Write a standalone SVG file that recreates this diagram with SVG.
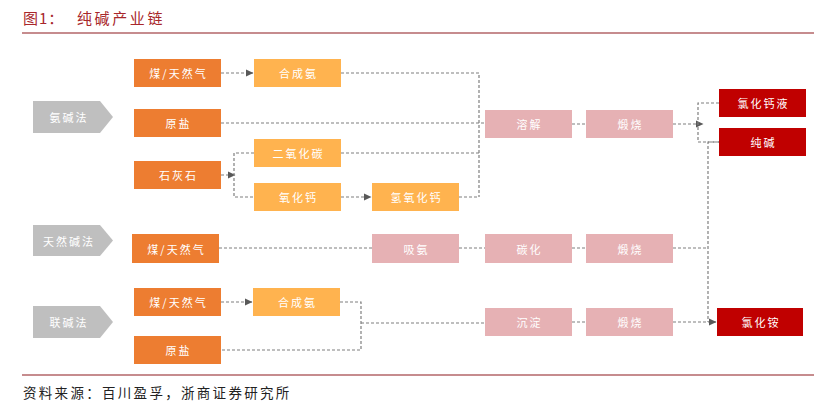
<svg xmlns="http://www.w3.org/2000/svg" width="829" height="412" viewBox="0 0 829 412">
<style>
  .t{font-family:"Noto Sans CJK SC","Noto Sans",sans-serif;font-size:11px;letter-spacing:2px;fill:#ffffff;text-anchor:middle;dominant-baseline:central}
  .dk{fill:#ED7D31}
  .lt{fill:#FFB34F}
  .pk{fill:#E6B1B4}
  .rd{fill:#C00000}
  .gy{fill:#BFBFBF}
  .c{fill:none;stroke:#7F7F7F;stroke-width:1.2;stroke-dasharray:3 2}
  .ca{fill:none;stroke:#7F7F7F;stroke-width:1.2;stroke-dasharray:3 2;marker-end:url(#ah)}
</style>
<defs>
  <marker id="ah" markerWidth="8" markerHeight="8" refX="7" refY="4" orient="auto" markerUnits="userSpaceOnUse">
    <path d="M0,0.5 L7.5,4 L0,7.5 Z" fill="#595959"/>
  </marker>
</defs>
<rect width="829" height="412" fill="#ffffff"/>
<text x="23" y="17" font-family="Noto Sans CJK SC,sans-serif" font-size="15" fill="#A8272B" dominant-baseline="central" letter-spacing="1">图1：</text>
<text x="77" y="17" font-family="Noto Sans CJK SC,sans-serif" font-size="15" fill="#A8272B" dominant-baseline="central" letter-spacing="2.6">纯碱产业链</text>
<line x1="22" y1="33" x2="814" y2="33" stroke="#8E1B1E" stroke-width="1.2"/>
<line x1="22" y1="375" x2="814" y2="375" stroke="#8E1B1E" stroke-width="1.2"/>
<text x="23" y="392" font-family="Noto Sans CJK SC,sans-serif" font-size="13.5" fill="#222222" dominant-baseline="central" letter-spacing="2.3">资料来源：百川盈孚，浙商证券研究所</text>

<g id="connectors">
  <path class="ca" d="M221,73 H253"/>
  <path class="c" d="M341,73 H479 V197"/>
  <path class="c" d="M221,123 H485"/>
  <path class="c" d="M341,153 H479"/>
  <path class="c" d="M459,197 H479"/>
  <path class="ca" d="M341,197 H371"/>
  <path class="ca" d="M221,175 H235"/>
  <path class="c" d="M254,153 H234 V197 H254"/>
  <path class="c" d="M572,124 H586"/>
  <path class="ca" d="M673,124 H703"/>
  <path class="c" d="M719,103 H698 V142 H719"/>
  <path class="c" d="M719,142 H708 V322"/>
  <path class="c" d="M219,248 H372"/>
  <path class="c" d="M459,248 H485"/>
  <path class="c" d="M572,248 H586"/>
  <path class="c" d="M673,248 H708"/>
  <path class="ca" d="M221,302 H252"/>
  <path class="c" d="M340,302 H361 V350 H221"/>
  <path class="c" d="M361,323 H485"/>
  <path class="c" d="M572,322 H586"/>
  <path class="ca" d="M673,322 H716"/>
</g>

<g id="m1"><path class="gy" d="M33,101 H100 L113,117 L100,133 H33 Z"/><text class="t" x="69" y="117">氨碱法</text></g>
<g id="m2"><path class="gy" d="M33,225 H100 L113,240.5 L100,256 H33 Z"/><text class="t" x="69" y="240.5">天然碱法</text></g>
<g id="m3"><path class="gy" d="M33,306 H100 L113,322 L100,338 H33 Z"/><text class="t" x="69" y="322">联碱法</text></g>

<g id="a_coal"><rect class="dk" x="134" y="59" width="87" height="28"/><text class="t" x="178.5" y="73">煤/天然气</text></g>
<g id="a_salt"><rect class="dk" x="134" y="109" width="87" height="28"/><text class="t" x="178.5" y="123">原盐</text></g>
<g id="a_lime"><rect class="dk" x="134" y="161" width="87" height="28"/><text class="t" x="178.5" y="175">石灰石</text></g>
<g id="a_nh3"><rect class="lt" x="254" y="59" width="87" height="28"/><text class="t" x="298.5" y="73">合成氨</text></g>
<g id="a_co2"><rect class="lt" x="254" y="139" width="87" height="28"/><text class="t" x="298.5" y="153">二氧化碳</text></g>
<g id="a_cao"><rect class="lt" x="254" y="183" width="87" height="28"/><text class="t" x="298.5" y="197">氧化钙</text></g>
<g id="a_caoh"><rect class="lt" x="372" y="183" width="87" height="28"/><text class="t" x="416.5" y="197">氢氧化钙</text></g>
<g id="a_dis"><rect class="pk" x="485" y="110" width="87" height="28"/><text class="t" x="529.5" y="124">溶解</text></g>
<g id="a_cal"><rect class="pk" x="586" y="110" width="87" height="28"/><text class="t" x="630.5" y="124">煅烧</text></g>
<g id="o_cacl"><rect class="rd" x="719" y="89" width="87" height="28"/><text class="t" x="763.5" y="103">氯化钙液</text></g>
<g id="o_soda"><rect class="rd" x="719" y="128" width="87" height="28"/><text class="t" x="763.5" y="142">纯碱</text></g>

<g id="b_coal"><rect class="dk" x="132" y="234" width="87" height="29"/><text class="t" x="176.5" y="248.5">煤/天然气</text></g>
<g id="b_abs"><rect class="pk" x="372" y="234" width="87" height="29"/><text class="t" x="416.5" y="248.5">吸氨</text></g>
<g id="b_carb"><rect class="pk" x="485" y="234" width="87" height="29"/><text class="t" x="529.5" y="248.5">碳化</text></g>
<g id="b_cal"><rect class="pk" x="586" y="234" width="87" height="29"/><text class="t" x="630.5" y="248.5">煅烧</text></g>

<g id="c_coal"><rect class="dk" x="134" y="288" width="87" height="28"/><text class="t" x="178.5" y="302">煤/天然气</text></g>
<g id="c_nh3"><rect class="lt" x="253" y="288" width="87" height="28"/><text class="t" x="297.5" y="302">合成氨</text></g>
<g id="c_salt"><rect class="dk" x="134" y="336" width="87" height="28"/><text class="t" x="178.5" y="350">原盐</text></g>
<g id="c_prec"><rect class="pk" x="485" y="308" width="87" height="28"/><text class="t" x="529.5" y="322">沉淀</text></g>
<g id="c_cal"><rect class="pk" x="586" y="308" width="87" height="28"/><text class="t" x="630.5" y="322">煅烧</text></g>
<g id="o_nh4cl"><rect class="rd" x="717" y="308" width="86" height="28"/><text class="t" x="761" y="322">氯化铵</text></g>
</svg>
